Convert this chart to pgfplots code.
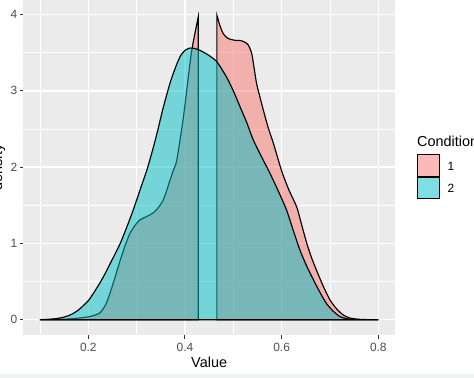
\documentclass[border=0pt]{standalone}
\usepackage{fontspec}
\setmainfont{Liberation Sans}
\usepackage{pgfplots}
\pgfplotsset{compat=1.18}
\definecolor{cA}{HTML}{F8766D}
\definecolor{cB}{HTML}{00BFC4}
\definecolor{panel}{HTML}{EBEBEB}
\definecolor{tickc}{HTML}{4D4D4D}
\definecolor{tickm}{HTML}{333333}
\definecolor{band}{HTML}{EEF2F2}
\begin{document}
\begin{tikzpicture}
\useasboundingbox (0bp,0bp) rectangle (474bp,378bp);
\begin{scope}
\clip (0bp,0bp) rectangle (474bp,378bp);
\fill[white] (0bp,0bp) rectangle (474bp,378bp);
\fill[band] (0bp,0bp) rectangle (474bp,4bp);
\begin{axis}[
  at={(23.3bp,43bp)}, anchor=south west,
  scale only axis, width=371.7bp, height=335bp,
  xmin=0.0655, xmax=0.8345, ymin=-0.2, ymax=4.19,
  axis background/.style={fill=panel},
  axis line style={draw=none},
  xtick={0.2,0.4,0.6,0.8}, xticklabels={0.2,0.4,0.6,0.8},
  ytick={0,1,2,3,4}, yticklabels={0,1,2,3,4},
  minor xtick={0.1,0.3,0.5,0.7}, minor ytick={0.5,1.5,2.5,3.5},
  grid=both,
  major grid style={white, line width=1.5bp},
  minor grid style={white, line width=0.75bp},
  tick align=outside, major tick length=3.6bp, minor tick length=0pt,
  tick style={tickm, line width=1bp},
  xtick pos=bottom, ytick pos=left,
  /pgf/number format/assume math mode=true,
  ticklabel style={font=\fontsize{12}{14}\selectfont, text=tickc, inner sep=0pt},
  xticklabel style={anchor=north, yshift=-4bp},
  yticklabel style={anchor=east, xshift=-2.2bp},
  xlabel={Value}, ylabel={density},
  label style={font=\fontsize{14.5}{17}\selectfont, inner sep=0pt},
  xlabel style={at={(axis description cs:0.5,-0.0640)}, anchor=north},
  ylabel style={at={(axis description cs:-0.0573,0.5)}, anchor=base},
  clip=false,
]
% Condition 1, left part
\addplot[draw=black, line width=1.15bp, fill=cA, fill opacity=0.5, smooth, tension=0.4] coordinates {
(0.100,0.000) (0.130,0.003) (0.160,0.010) (0.185,0.025) (0.205,0.045)
(0.224,0.090) (0.236,0.200) (0.245,0.350) (0.255,0.550) (0.266,0.780)
(0.276,0.970) (0.286,1.130) (0.297,1.240) (0.307,1.310) (0.320,1.350)
(0.334,1.400) (0.345,1.470) (0.355,1.570) (0.362,1.690) (0.369,1.830)
(0.376,1.960) (0.383,2.090) (0.396,2.620) (0.405,3.080) (0.414,3.530)
(0.4275,3.970)
} \closedcycle;
% Condition 1, right part
\addplot[draw=black, line width=1.15bp, fill=cA, fill opacity=0.5, smooth, tension=0.4] coordinates {
(0.466,3.990) (0.472,3.860) (0.479,3.750) (0.488,3.690) (0.497,3.670)
(0.506,3.660) (0.514,3.660) (0.523,3.640) (0.531,3.600) (0.538,3.490)
(0.543,3.300) (0.548,3.100) (0.555,2.920) (0.562,2.750) (0.572,2.520)
(0.583,2.310) (0.600,1.950) (0.615,1.700) (0.631,1.480) (0.642,1.230)
(0.652,1.000) (0.662,0.810) (0.672,0.650) (0.686,0.440) (0.700,0.260)
(0.714,0.140) (0.728,0.060) (0.740,0.025) (0.755,0.008) (0.775,0.002)
(0.800,0.000)
} \closedcycle;
% Condition 2
\addplot[draw=black, line width=1.15bp, fill=cB, fill opacity=0.5, smooth, tension=0.4] coordinates {
(0.100,0.000) (0.130,0.012) (0.150,0.035) (0.165,0.070) (0.180,0.130)
(0.200,0.250) (0.215,0.390) (0.231,0.560) (0.248,0.770) (0.266,1.000)
(0.280,1.220) (0.293,1.440) (0.307,1.700) (0.321,1.960) (0.332,2.200)
(0.342,2.440) (0.355,2.780) (0.369,3.100) (0.380,3.300) (0.390,3.450)
(0.400,3.530) (0.410,3.560) (0.420,3.555) (0.431,3.530) (0.448,3.470)
(0.466,3.380) (0.486,3.180) (0.500,3.000) (0.514,2.790) (0.528,2.580)
(0.541,2.360) (0.558,2.140) (0.575,1.930) (0.592,1.700) (0.610,1.440)
(0.624,1.170) (0.638,0.910) (0.652,0.700) (0.666,0.520) (0.680,0.350)
(0.693,0.210) (0.707,0.110) (0.721,0.040) (0.740,0.008) (0.770,0.001)
(0.800,0.000)
} \closedcycle;
\end{axis}
% legend
\node[anchor=base west, inner sep=0pt, font=\fontsize{14.5}{17}\selectfont] at (417bp,231bp) {Condition};
\fill[white] (417bp,201bp) rectangle (439bp,223bp);
\filldraw[fill=cA, fill opacity=0.5, draw=black, line width=1bp] (417bp,201bp) rectangle (439bp,223bp);
\fill[white] (417bp,179bp) rectangle (439bp,200bp);
\filldraw[fill=cB, fill opacity=0.5, draw=black, line width=1bp] (417bp,179bp) rectangle (439bp,200bp);
\node[anchor=west, inner sep=0pt, font=\fontsize{12}{14}\selectfont] at (447.5bp,212bp) {1};
\node[anchor=west, inner sep=0pt, font=\fontsize{12}{14}\selectfont] at (447.5bp,189.5bp) {2};
\end{scope}
\end{tikzpicture}
\end{document}
